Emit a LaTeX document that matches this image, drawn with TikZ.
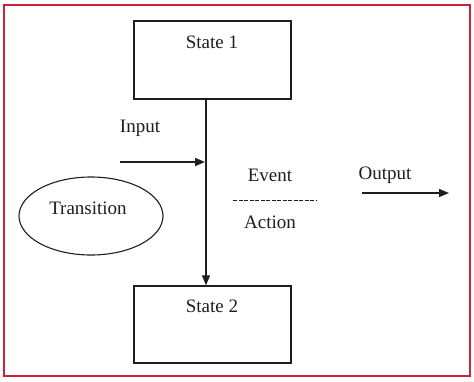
\documentclass[tikz,border=0pt]{standalone}
\usepackage{fontspec}
\setmainfont{Liberation Serif}
\usetikzlibrary{arrows.meta,shapes.geometric}
\definecolor{frame}{RGB}{205,35,55}
\definecolor{ink}{RGB}{30,30,30}
\begin{document}
\begin{tikzpicture}[x=1pt,y=-1pt,
  txt/.style={font=\fontsize{19}{21}\selectfont, text=ink, inner sep=0pt},
  statebox/.style={draw=ink, line width=1.4pt},
  arr/.style={draw=ink, line width=1.4pt, -{Triangle[length=10pt,width=8pt]}}]
\useasboundingbox (0,0) rectangle (474,381);
\fill[white] (0,0) rectangle (474,381);
\draw[frame, line width=2.2pt] (4,5) rectangle (470,376);
% states
\node[statebox, minimum width=157pt, minimum height=78pt, inner sep=0pt] (s1) at (212.5,60) {};
\node[txt] (t1) at (212,42) {State 1};
\node[statebox, minimum width=157pt, minimum height=77pt, inner sep=0pt] (s2) at (212.5,324.5) {};
\node[txt] (t2) at (212,306) {State 2};
\coordinate (v1) at (206,99);
\draw[arr] (v1) -- (v1 |- s2.north);
% input
\node[txt] (in) at (140,128) {Input};
\coordinate (ia) at (120,162);
\coordinate (ib) at (205,162);
\draw[arr] (ia) -- (ib);
% transition
\node[draw=ink, line width=1.1pt, ellipse, minimum width=144pt, minimum height=78pt, inner sep=0pt] (tr) at (91,216) {};
\node[txt] (trt) at (88,208) {Transition};
% event / action
\node[txt] (ev) at (270,175) {Event};
\node[txt] (ac) at (270,222) {Action};
\coordinate (da) at (233,200);
\coordinate (db) at (317,200);
\draw[ink, line width=1pt, dash pattern=on 4pt off 1.5pt] (da) -- (db);
% output
\node[txt] (out) at (385,175) {Output};
\coordinate (oa) at (362,193);
\coordinate (ob) at (449,193);
\draw[arr] (oa) -- (ob);
\end{tikzpicture}
\end{document}
